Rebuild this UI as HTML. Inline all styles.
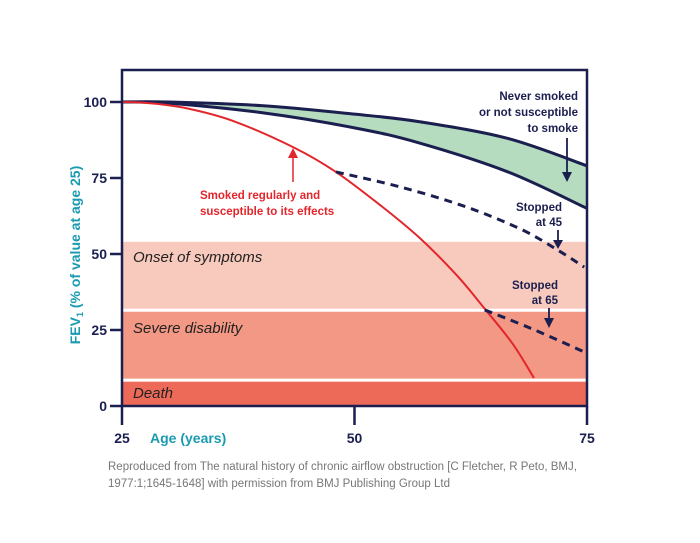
<!DOCTYPE html>
<html><head><meta charset="utf-8"><style>
body{margin:0;background:#fff;}
svg text{font-family:"Liberation Sans",sans-serif;}
</style></head><body>
<svg id="c" width="700" height="538" viewBox="0 0 700 538" xmlns="http://www.w3.org/2000/svg">
<g id="bands"></g>
<g id="curves"></g>
<rect x="122" y="70" width="465" height="336" fill="none" stroke="#1b1f4f" stroke-width="2.5"/>
<g id="axes" fill="#1b1f4f" font-weight="bold" font-size="14"></g>
<text transform="translate(80,255) rotate(-90)" text-anchor="middle" fill="#1a9bb0" font-weight="bold" font-size="14">FEV<tspan font-size="9" dy="3">1</tspan><tspan dy="-3"> (% of value at age 25)</tspan></text>
<text x="150" y="443" fill="#1a9bb0" font-weight="bold" font-size="14">Age (years)</text>
<g font-style="italic" font-size="15" fill="#222">
<text x="133" y="262">Onset of symptoms</text>
<text x="133" y="333">Severe disability</text>
<text x="133" y="398">Death</text>
</g>
<g font-weight="bold" font-size="11.5" fill="#1b1f4f" text-anchor="end">
<text x="578" y="100">Never smoked</text>
<text x="578" y="116">or not susceptible</text>
<text x="578" y="132">to smoke</text>
<text x="562" y="211">Stopped</text>
<text x="562" y="226">at 45</text>
<text x="558" y="289">Stopped</text>
<text x="558" y="304">at 65</text>
</g>
<g stroke="#1b1f4f" stroke-width="1.8" fill="#1b1f4f">
<line x1="567" y1="138" x2="567" y2="174"/><polygon points="562,172 572,172 567,182" stroke="none"/>
<line x1="558" y1="230" x2="558" y2="242"/><polygon points="553,240 563,240 558,249" stroke="none"/>
<line x1="549" y1="308" x2="549" y2="320"/><polygon points="544,318 554,318 549,328" stroke="none"/>
</g>
<text font-weight="bold" font-size="11.5" fill="#e3262c"><tspan x="200" y="199">Smoked regularly and</tspan><tspan x="200" y="215">susceptible to its effects</tspan></text>
<g fill="#e3262c" stroke="#e3262c" stroke-width="1.5">
<line x1="293" y1="182" x2="293" y2="156"/><polygon points="288,158 298,158 293,148" stroke="none"/>
</g>
<text font-size="11.5" fill="#777"><tspan x="108" y="470">Reproduced from The natural history of chronic airflow obstruction [C Fletcher, R Peto, BMJ,</tspan><tspan x="108" y="487">1977:1;1645-1648] with permission from BMJ Publishing Group Ltd</tspan></text>
</svg>
<script>
const xTicks=[25,50,75];
const yTicks=[0,25,50,75,100];
const bandNames=["onset-band","severe-band","death-band"];
const bandTop=[54,31,8];
const bandBottom=[32,9,0];
const bandColors=["#f8cabd","#f29884","#ee6a58"];
const upperAges=[25,30,40,50,57,66.5,75];
const upperVals=[100,100,98.8,96,93.5,88,79];
const lowerAges=[25,30,40,50,57,66.5,75];
const lowerVals=[100,99.6,96.5,91.5,86.5,77,65];
const smokerAges=[25,28,32,37,43.5,48,53,57,61,64,67,69.3];
const smokerVals=[100,99.6,97.9,93.7,85,77,65.5,55.3,43,32,20.5,9.2];
const stop45Ages=[48,55,62,68,72,74.7];
const stop45Vals=[77,72,65.5,58,51,45.7];
const stop65Ages=[64,69,74.7];
const stop65Vals=[31.6,25.5,17.8];
const X=a=>122+(a-25)/50*465;
const Y=v=>406-v*3.04;
const NS="http://www.w3.org/2000/svg";
function mk(t,p,parent){const e=document.createElementNS(NS,t);for(const k in p)e.setAttribute(k,p[k]);parent.appendChild(e);return e;}
function path(ages,vals){const pts=ages.map((a,i)=>[X(a),Y(vals[i])]);let d="M"+pts[0].join(",");
for(let i=0;i<pts.length-1;i++){const p0=pts[i-1]||pts[i],p1=pts[i],p2=pts[i+1],p3=pts[i+2]||p2;
d+=" C"+(p1[0]+(p2[0]-p0[0])/6)+","+(p1[1]+(p2[1]-p0[1])/6)+" "+(p2[0]-(p3[0]-p1[0])/6)+","+(p2[1]-(p3[1]-p1[1])/6)+" "+p2[0]+","+p2[1];}return d;}
const bands=document.getElementById('bands');
bandTop.forEach((t,i)=>{const r=mk('rect',{x:X(25),y:Y(t),width:X(75)-X(25),height:Y(bandBottom[i])-Y(t),fill:bandColors[i]},bands);

});
const cv=document.getElementById('curves');
const up=path(upperAges,upperVals);
const lowRev=path(lowerAges.slice().reverse(),lowerVals.slice().reverse());
const fill=mk('path',{d:up+" L"+lowRev.slice(1)+" Z",fill:"#b5dcbf"},cv);


const lines=[[upperAges,upperVals,"#1b1f4f","never-smoked-upper",""],[lowerAges,lowerVals,"#1b1f4f","never-smoked-lower",""],[smokerAges,smokerVals,"#e3262c","smoker-line",""],[stop45Ages,stop45Vals,"#1b1f4f","stopped-45-line","8 6"],[stop65Ages,stop65Vals,"#1b1f4f","stopped-65-line","8 6"]];
lines.forEach(l=>{const p=mk('path',{d:path(l[0],l[1]),fill:"none",stroke:l[2],"stroke-width":l[2]=="#e3262c"?2:3,"stroke-dasharray":l[4]},cv);

});
const ax=document.getElementById('axes');
yTicks.forEach(v=>{const t=mk('line',{x1:110,x2:122,y1:Y(v),y2:Y(v),stroke:"#1b1f4f","stroke-width":2.5},ax);


const l=mk('text',{x:107,y:Y(v)+5,"text-anchor":"end"},ax);l.textContent=v;

});
xTicks.forEach(a=>{const t=mk('line',{x1:X(a),x2:X(a),y1:406,y2:425,stroke:"#1b1f4f","stroke-width":2.5},ax);


const l=mk('text',{x:X(a),y:443,"text-anchor":"middle"},ax);l.textContent=a;

});
</script>
</body></html>
